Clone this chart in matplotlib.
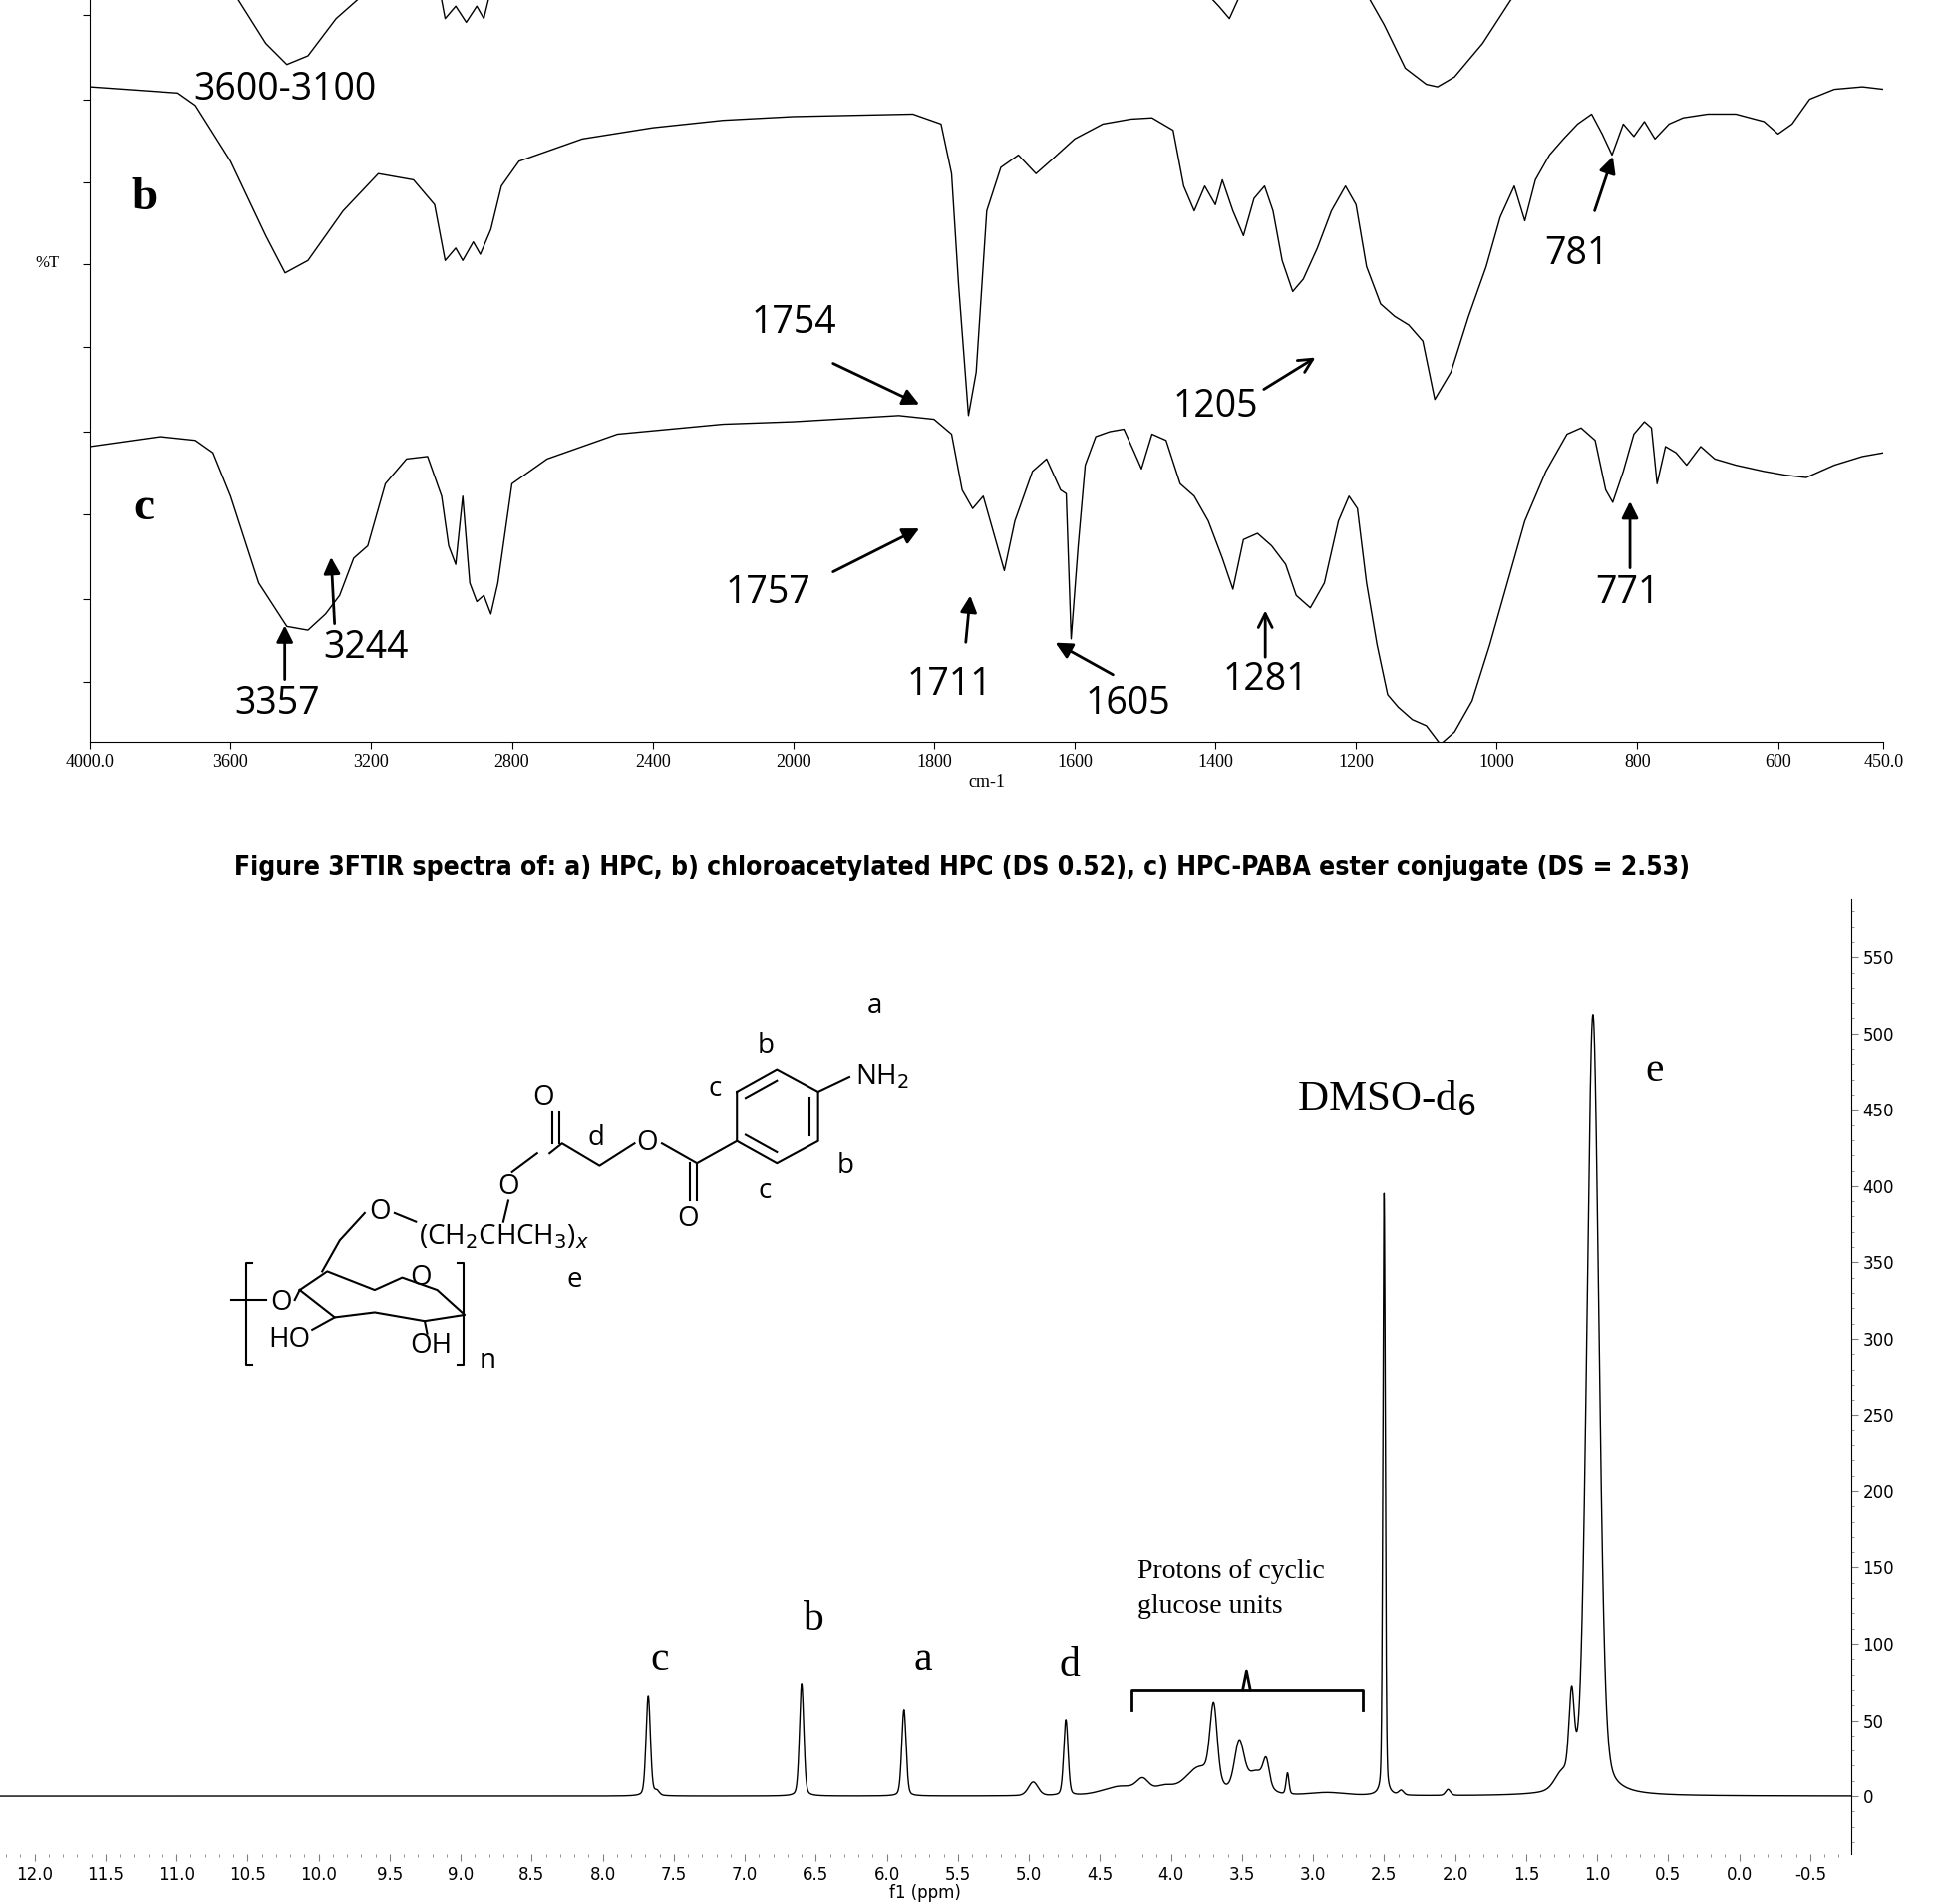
import numpy as np
import matplotlib
matplotlib.use("Agg")
import matplotlib.pyplot as plt

# ---------------- FTIR data (wavenumber, %T offset in plot units, larger = lower) -------------
a_wn = [4000,3700,3600,3500,3440,3380,3300,3200,3100,3020,2990,2960,2930,2900,2880,2850,2800,2400,2000,1600,1420,1395,1380,1360,1300,1200,1160,1130,1100,1084,1060,1020,980,940,900,600,450]
a_y  = [-60,-40,-10,35,52,45,15,-10,-40,-30,15,5,18,5,15,-20,-40,-60,-60,-40,-10,5,15,-10,-20,-20,20,55,68,70,62,35,0,-20,-40,-60,-60]

b_wn = [4000,3750,3700,3600,3500,3445,3380,3280,3180,3080,3020,2990,2960,2940,2910,2890,2860,2830,2780,2600,2400,2200,2000,1830,1790,1775,1765,1751,1740,1725,1705,1680,1655,1635,1600,1560,1520,1490,1460,1445,1430,1415,1400,1390,1375,1360,1345,1330,1318,1305,1290,1275,1255,1235,1215,1200,1185,1165,1145,1125,1105,1088,1065,1040,1015,995,975,960,945,925,905,885,865,850,836,820,805,790,775,755,735,700,660,620,600,580,555,520,480,450]
b_y  = [70,75,85,130,190,220,210,170,140,145,165,210,200,210,195,205,185,150,130,112,103,97,94,92,100,140,230,335,300,170,135,125,140,130,112,100,96,95,105,150,170,150,165,145,170,190,160,150,170,210,235,225,200,170,150,165,215,245,255,262,275,322,300,255,215,175,150,178,145,125,112,100,92,108,125,100,110,98,112,100,95,92,92,98,108,100,80,72,70,72]

c_wn = [4000,3800,3700,3650,3600,3520,3440,3380,3330,3290,3250,3210,3160,3100,3040,3000,2980,2960,2940,2920,2900,2880,2860,2840,2800,2700,2500,2200,2000,1850,1800,1775,1760,1745,1730,1715,1700,1685,1660,1640,1620,1612,1605,1595,1585,1570,1550,1530,1515,1505,1490,1470,1450,1430,1410,1390,1375,1360,1340,1320,1300,1285,1265,1245,1225,1210,1198,1185,1170,1155,1140,1120,1100,1080,1060,1035,1010,985,960,930,900,880,860,845,835,820,805,790,780,772,760,745,730,710,690,660,620,590,560,520,480,450]
c_y  = [360,352,355,365,400,470,505,508,495,480,450,440,390,370,368,400,440,455,400,470,485,480,495,470,390,370,350,342,340,335,338,350,395,410,400,430,460,420,380,370,395,398,515,440,375,352,348,346,365,378,350,355,390,400,420,450,475,435,430,440,455,480,490,470,420,400,410,470,520,560,570,580,585,600,590,565,520,470,420,380,350,345,355,395,405,380,350,340,345,390,360,365,375,360,370,375,380,383,385,375,368,365]

ftir_ticks = [4000,3600,3200,2800,2400,2000,1800,1600,1400,1200,1000,800,600,450]
ftir_labels = ["4000.0","3600","3200","2800","2400","2000","1800","1600","1400","1200","1000","800","600","450.0"]

# ---------------- NMR data --------------------------------------------------
nmr_ppm    = [7.68,7.62,6.60,5.88,4.97,4.74,4.35,4.20,4.05,3.80,3.70,3.52,3.40,3.33,3.18,2.90,2.50,2.38,2.05,1.18,1.25,1.03]
nmr_height = [66,3,74,57,9,50,6,8,5,18,50,32,15,16,14,2,395,3,4,55,10,512]
nmr_width  = [0.018,0.02,0.018,0.018,0.04,0.018,0.15,0.05,0.08,0.12,0.03,0.04,0.08,0.025,0.012,0.15,0.01,0.02,0.02,0.022,0.06,0.05]
nmr_xticks = [12.0,11.5,11.0,10.5,10.0,9.5,9.0,8.5,8.0,7.5,7.0,6.5,6.0,5.5,5.0,4.5,4.0,3.5,3.0,2.5,2.0,1.5,1.0,0.5,0.0,-0.5]
nmr_yticks = [0,50,100,150,200,250,300,350,400,450,500,550]

def wn2u(w):
    w = np.asarray(w, float)
    return np.where(w >= 2000, (4000 - w) / 2.0, 1000 + (2000 - w))

W, H = 1550.0, 1535.0
fig = plt.figure(figsize=(19.42, 19.10), dpi=100)
serif = ['Liberation Serif', 'DejaVu Serif']

# ---------------- FTIR axes --------------------------------------------------
ax1 = fig.add_axes([72/W, 1-598/H, (1508-72)/W, 598/H])
for wn, yy in [(a_wn, a_y), (b_wn, b_y), (c_wn, c_y)]:
    ax1.plot(wn2u(wn), yy, color='black', lw=1.0)
ax1.set_xlim(0, 2550)
ax1.set_ylim(598, 0)
ax1.set_xticks(wn2u(ftir_ticks))
ax1.set_xticklabels(ftir_labels, fontfamily=serif, fontsize=13)
ax1.set_yticks([12, 80, 147, 213, 280, 348, 415, 483, 550])
ax1.set_yticklabels([])
ax1.tick_params(direction='out', length=5)
ax1.spines['top'].set_visible(False)
ax1.spines['right'].set_visible(False)
ax1.set_xlabel('cm-1', fontfamily=serif, fontsize=13, labelpad=2)

# ---------------- NMR axes ---------------------------------------------------
ax2 = fig.add_axes([0, 1-1495/H, 1482/W, (1495-725)/H])
x = np.linspace(12.3, -0.8, 10000)
y = np.zeros_like(x)
for p, h, w in zip(nmr_ppm, nmr_height, nmr_width):
    d = (x - p) / w
    y += h * (0.25 / (1 + d ** 2) + 0.75 * np.exp(-0.693 * d ** 2))
ax2.plot(x, y, color='black', lw=1.0)
ax2.set_xlim(12.243, -0.787)
ax2.set_ylim(-38, 588)
ax2.yaxis.tick_right()
ax2.set_yticks(nmr_yticks)
ax2.set_yticks(np.arange(-30, 590, 10), minor=True)
ax2.set_xticks(nmr_xticks)
ax2.set_xticks(np.arange(-0.7, 12.3, 0.1), minor=True)
ax2.set_xticklabels([f"{t:.1f}" for t in nmr_xticks], fontsize=12)
ax2.set_yticklabels([str(t) for t in nmr_yticks], fontsize=12)
for s in ['top', 'left', 'bottom']:
    ax2.spines[s].set_visible(False)
ax2.tick_params(which='major', length=5, color='gray')
ax2.tick_params(which='minor', length=2.5, color='gray')
ax2.set_xlabel('f1 (ppm)', fontsize=12, labelpad=0)

# ---------------- overlay for annotations ------------------------------------
ov = fig.add_axes([0, 0, 1, 1], facecolor='none')
ov.set_xlim(0, W); ov.set_ylim(H, 0); ov.axis('off')

def t(xx, yy, s, **kw):
    ov.text(xx, yy, s, ha=kw.pop('ha', 'center'), va=kw.pop('va', 'center'), **kw)

def arr(x0, y0, x1, y1, filled=True):
    ov.annotate('', xy=(x1, y1), xytext=(x0, y0),
                arrowprops=dict(arrowstyle='-|>' if filled else '->', color='black', lw=2,
                                mutation_scale=25))

sans = ['Open Sans', 'DejaVu Sans']
t(228, 72, '3600-3100', fontsize=27, family=sans)
t(115, 160, 'b', fontsize=34, fontweight='bold', family=serif)
t(115, 410, 'c', fontsize=34, fontweight='bold', family=serif)
t(1262, 205, '781', fontsize=27, family=sans); arr(1276, 172, 1292, 124)
t(636, 260, '1754', fontsize=27, family=sans); arr(665, 292, 738, 327)
t(973, 328, '1205', fontsize=27, family=sans); arr(1010, 315, 1055, 287, filled=False)
t(615, 478, '1757', fontsize=27, family=sans); arr(665, 462, 738, 425)
t(760, 552, '1711', fontsize=27, family=sans); arr(773, 520, 777, 478)
t(903, 567, '1605', fontsize=27, family=sans); arr(893, 545, 843, 517)
t(1013, 548, '1281', fontsize=27, family=sans); arr(1013, 532, 1013, 490, filled=False)
t(1303, 478, '771', fontsize=27, family=sans); arr(1305, 460, 1305, 402)
t(222, 567, '3357', fontsize=27, family=sans); arr(228, 550, 228, 502)
t(293, 522, '3244', fontsize=27, family=sans); arr(268, 505, 265, 447)
t(38, 212, '%T', fontsize=12, family=serif)

t(770, 700, 'Figure 3FTIR spectra of: a) HPC, b) chloroacetylated HPC (DS 0.52), c) HPC-PABA ester conjugate (DS = 2.53)',
  fontsize=19, fontweight='bold', family=['Liberation Sans Narrow', 'DejaVu Sans'], stretch='condensed')

# NMR labels
t(528, 1338, 'c', fontsize=30, family=serif)
t(651, 1306, 'b', fontsize=30, family=serif)
t(739, 1338, 'a', fontsize=30, family=serif)
t(856, 1343, 'd', fontsize=30, family=serif)
t(1325, 863, 'e', fontsize=30, family=serif)
t(1110, 886, r'DMSO-d$_6$', fontsize=31, family=serif)
t(911, 1281, 'Protons of cyclic\nglucose units', fontsize=20, family=serif, ha='left', linespacing=1.5)
ov.plot([906, 906, 1091, 1091], [1378, 1362, 1362, 1378], color='black', lw=2)
ov.plot([995, 998, 1001], [1362, 1347, 1362], color='black', lw=2)

# chemical structure (simplified)
L = dict(color='black', lw=1.5)
hexv = [(590, 880), (622, 862), (655, 880), (655, 920), (622, 938), (590, 920), (590, 880)]
ov.plot(*zip(*hexv), **L)
ov.plot([597, 622], [885, 871], **L); ov.plot([648, 648], [885, 915], **L); ov.plot([597, 622], [915, 929], **L)
ov.plot([655, 680], [880, 868], **L)
ov.plot([590, 558, 530], [920, 938, 922], **L)
ov.plot([558, 558], [938, 968], **L); ov.plot([552, 552], [938, 968], **L)
ov.plot([508, 480, 450, 440], [922, 940, 922, 930], **L)
ov.plot([448, 448], [922, 896], **L); ov.plot([442, 442], [922, 896], **L)
ov.plot([430, 410], [930, 945], **L)
ov.plot([407, 403], [968, 985], **L)
ov.plot([316, 333], [978, 985], **L)
ov.plot([292, 272, 258], [978, 1000, 1025], **L)
sug = [(240, 1040), (262, 1025), (300, 1040), (322, 1030), (350, 1040), (372, 1060), (340, 1065), (300, 1058), (268, 1062), (240, 1040)]
ov.plot(*zip(*sug), **L)
ov.plot([185, 213], [1048, 1048], **L); ov.plot([236, 240], [1048, 1040], **L)
ov.plot([268, 250], [1062, 1072], **L); ov.plot([340, 342], [1065, 1075], **L)
ov.plot([202, 197, 197, 202], [1018, 1018, 1100, 1100], **L)
ov.plot([366, 371, 371, 366], [1018, 1018, 1100, 1100], **L)
sf = 20
t(700, 811, 'a', fontsize=sf, family=sans)
t(613, 843, 'b', fontsize=sf, family=sans)
t(572, 878, 'c', fontsize=sf, family=sans)
t(706, 868, r'NH$_2$', fontsize=sf, family=sans)
t(677, 940, 'b', fontsize=sf, family=sans)
t(612, 960, 'c', fontsize=sf, family=sans)
t(551, 983, 'O', fontsize=sf, family=sans)
t(518, 922, 'O', fontsize=sf, family=sans)
t(477, 918, 'd', fontsize=sf, family=sans)
t(435, 885, 'O', fontsize=sf, family=sans)
t(407, 957, 'O', fontsize=sf, family=sans)
t(304, 977, 'O', fontsize=sf, family=sans)
t(335, 997, r'(CH$_2$CHCH$_3$)$_x$', fontsize=sf, family=sans, ha='left')
t(337, 1030, 'O', fontsize=sf, family=sans)
t(460, 1032, 'e', fontsize=sf, family=sans)
t(225, 1050, 'O', fontsize=sf, family=sans)
t(232, 1080, 'HO', fontsize=sf, family=sans)
t(345, 1085, 'OH', fontsize=sf, family=sans)
t(390, 1097, 'n', fontsize=sf, family=sans)

fig.savefig('out.png', dpi=100)
